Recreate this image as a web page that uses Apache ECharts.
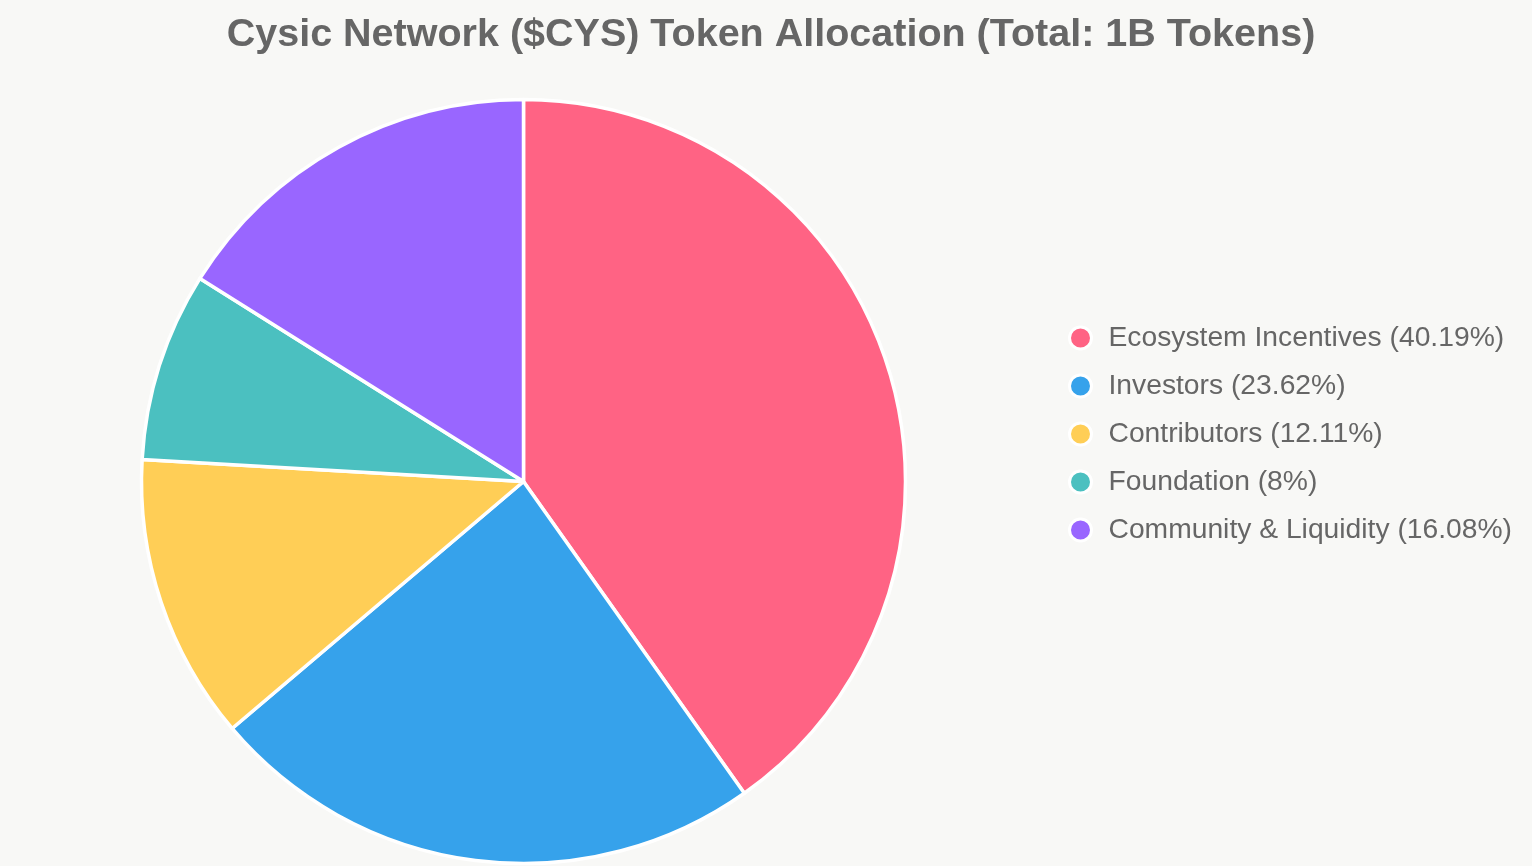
<!DOCTYPE html>
<html>
<head>
<meta charset="utf-8">
<style>
  html, body { margin: 0; padding: 0; background: #f8f8f6; }
  #main { width: 1532px; height: 866px; }
</style>
<script src="https://cdn.jsdelivr.net/npm/echarts@6/dist/echarts.min.js"></script>
</head>
<body>
<div id="main"></div>
<script>
const titleText = 'Cysic Network ($CYS) Token Allocation (Total: 1B Tokens)';
const categories = ['Ecosystem Incentives', 'Investors', 'Contributors', 'Foundation', 'Community & Liquidity'];
const values = [40.19, 23.62, 12.11, 8, 16.08];
const colors = ['#ff6384', '#36a2eb', '#ffce56', '#4bc0c0', '#9966ff'];

const valueByName = {};
categories.forEach((name, i) => { valueByName[name] = values[i]; });

const chart = echarts.init(document.getElementById('main'));
chart.setOption({
  animation: false,
  backgroundColor: '#f8f8f6',
  title: {
    text: titleText,
    left: 766,
    top: 10,
    textAlign: 'center',
    textStyle: {
      color: '#666666',
      fontFamily: 'Liberation Sans',
      fontSize: 39.5,
      fontWeight: 'bold',
    },
  },
  legend: {
    orient: 'vertical',
    left: 1063,
    top: 319,
    icon: 'circle',
    itemWidth: 22,
    itemHeight: 22,
    itemGap: 20,
    itemStyle: { borderColor: '#ffffff', borderWidth: 3 },
    textStyle: {
      color: '#666666',
      fontFamily: 'Liberation Sans',
      fontSize: 28.25,
      lineHeight: 28,
      padding: [0, 0, 0, 12],
    },
    formatter: (name) => `${name} (${valueByName[name]}%)`,
  },
  series: [
    {
      type: 'pie',
      center: [523.5, 481.5],
      radius: [0, 382],
      startAngle: 90,
      clockwise: true,
      label: { show: false },
      labelLine: { show: false },
      itemStyle: { borderColor: '#ffffff', borderWidth: 3.5 },
      data: categories.map((name, i) => ({
        name,
        value: values[i],
        itemStyle: { color: colors[i] },
      })),
    },
  ],
});
</script>
</body>
</html>
